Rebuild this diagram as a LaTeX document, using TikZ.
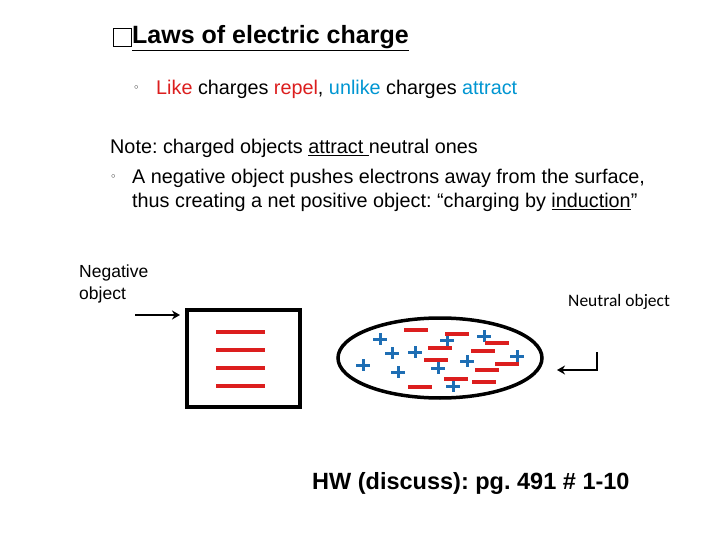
\documentclass[tikz,border=0pt]{standalone}
\usepackage{fontspec}
\usetikzlibrary{arrows.meta,shapes.geometric}
\setmainfont{Liberation Sans}
\newfontfamily\carl{Carlito}
\newfontfamily\djv{DejaVu Sans}
\frenchspacing
\begin{document}
\begin{tikzpicture}[x=1pt,y=-1pt,
  txt/.style={anchor=west,inner sep=0pt,font=\fontsize{19.8}{24}\selectfont},
  plus/.style={line width=3pt},
  minus/.style={line width=3.6pt},
  arr/.style={line width=2.2pt,-{Stealth[length=8pt,width=9pt]}}]
\definecolor{myred}{RGB}{220,30,30}
\definecolor{myblue}{RGB}{0,150,210}
\definecolor{pblue}{RGB}{30,110,180}
\useasboundingbox (0,0) rectangle (720,540);
\fill[white] (0,0) rectangle (720,540);
% title
\draw[line width=1pt] (113,29) rectangle (131,47);
\node[txt,font=\bfseries\fontsize{25}{28}\selectfont] (title) at (132,38) {\underline{Laws of electric charge}};
\node[txt,font=\djv\fontsize{11}{14}\selectfont] (b1) at (133,89) {◦};
\node[txt] (l1) at (156,89) {\textcolor{myred}{Like} charges \textcolor{myred}{repel}, \textcolor{myblue}{unlike} charges \textcolor{myblue}{attract}};
\node[txt] (note) at (110,148) {Note: charged objects \underline{attract }neutral ones};
\node[txt,font=\djv\fontsize{11}{14}\selectfont] (b2) at (110,178) {◦};
\node[txt] (l2) at (132,178) {A negative object pushes electrons away from the surface,};
\node[txt] (l3) at (132,202) {thus creating a net positive object: “charging by \underline{induction}”};
\node[txt,font=\fontsize{17.5}{22}\selectfont,align=left,anchor=north west] (neg) at (79,265) {Negative\\object};
\node[txt,font=\carl\fontsize{17.5}{20}\selectfont] (neu) at (568,302) {Neutral object};
\node[txt,font=\bfseries\fontsize{23.5}{26}\selectfont] (hw) at (312,483) {HW (discuss): pg. 491 \# 1-10};
% box
\node[draw,line width=3.5pt,minimum width=113pt,minimum height=97pt,inner sep=0pt] (box) at (243.5,358.5) {};
\foreach \y in {332,350,368,386} \draw[minus,myred] (216,\y) -- (265,\y);
\coordinate (na) at (135,315);
\draw[arr] (na) -- (180,315);
% ellipse
\node[draw,ellipse,line width=3.5pt,minimum width=204pt,minimum height=80pt,inner sep=0pt] (ell) at (440,358) {};
\foreach \x/\y in {380/339,484/336,447/340,392/353,415/352,517/356,363/365,398/372,438/368,467/361,453/386}
  \draw[plus,pblue] (\x-7,\y) -- (\x+7,\y) (\x,\y-6) -- (\x,\y+6);
\foreach \x/\y in {416/330,457/334,497/343,440/348,483/351,436/360,507/364,487/370,456/379,484/382,420/387}
  \draw[minus,myred] (\x-12,\y) -- (\x+12,\y);
\coordinate (ea) at (597,352);
\draw[arr] (ea) -- (597,370) -- (557,370);
\end{tikzpicture}
\end{document}
